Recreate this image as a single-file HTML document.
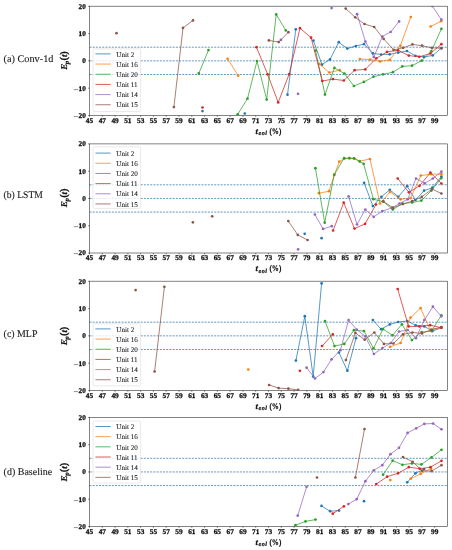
<!DOCTYPE html>
<html lang="en"><head><meta charset="utf-8"><title>Figure</title>
<style>html,body{margin:0;padding:0;background:#fff;}svg{display:block;}text{font-family:'Liberation Serif', 'DejaVu Serif', serif;text-rendering:geometricPrecision;}
.tk{font-size:7.3px;font-weight:bold;fill:#111;stroke:#111;stroke-width:0.27px;}.lg{font-size:7.1px;fill:#1a1a1a;stroke:#1a1a1a;stroke-width:0.08px;}.rl{font-size:10.2px;fill:#1a1a1a;stroke:#1a1a1a;stroke-width:0.12px;}.ax{font-size:8.5px;font-weight:bold;font-style:italic;fill:#111;stroke:#111;stroke-width:0.2px;}
</style></head><body>
<svg width="452" height="550" viewBox="0 0 452 550">
<rect width="452" height="550" fill="#fff"/>
<g>
<clipPath id="c0"><rect x="89.50" y="6.20" width="358.00" height="109.30"/></clipPath>
<line x1="89.50" x2="447.50" y1="47.19" y2="47.19" stroke="#3d7fae" stroke-width="0.95" stroke-opacity="0.85" stroke-dasharray="2 1.2"/>
<line x1="89.50" x2="447.50" y1="60.85" y2="60.85" stroke="#3d7fae" stroke-width="0.95" stroke-opacity="0.85" stroke-dasharray="2 1.2"/>
<line x1="89.50" x2="447.50" y1="74.51" y2="74.51" stroke="#3d7fae" stroke-width="0.95" stroke-opacity="0.85" stroke-dasharray="2 1.2"/>
<g clip-path="url(#c0)">
<circle cx="202.5" cy="111.1" r="1.35" fill="#1f77b4"/>
<circle cx="244.8" cy="113.5" r="1.35" fill="#1f77b4"/>
<polyline fill="none" stroke="#1f77b4" stroke-width="0.75" stroke-linejoin="round" points="287.5,94.7 295.8,29.3"/>
<circle cx="287.5" cy="94.7" r="1.35" fill="#1f77b4"/>
<circle cx="295.8" cy="29.3" r="1.35" fill="#1f77b4"/>
<polyline fill="none" stroke="#1f77b4" stroke-width="0.75" stroke-linejoin="round" points="313.4,40.6 322.0,64.7 330.0,59.4 338.8,42.2 347.3,48.6 355.8,46.0 364.0,44.1 373.0,53.4 381.2,54.5 389.7,54.3 398.2,52.6 407.0,51.0 415.4,55.8 423.9,57.0 432.7,55.4 441.4,48.1"/>
<circle cx="313.4" cy="40.6" r="1.35" fill="#1f77b4"/>
<circle cx="322.0" cy="64.7" r="1.35" fill="#1f77b4"/>
<circle cx="330.0" cy="59.4" r="1.35" fill="#1f77b4"/>
<circle cx="338.8" cy="42.2" r="1.35" fill="#1f77b4"/>
<circle cx="347.3" cy="48.6" r="1.35" fill="#1f77b4"/>
<circle cx="355.8" cy="46.0" r="1.35" fill="#1f77b4"/>
<circle cx="364.0" cy="44.1" r="1.35" fill="#1f77b4"/>
<circle cx="373.0" cy="53.4" r="1.35" fill="#1f77b4"/>
<circle cx="381.2" cy="54.5" r="1.35" fill="#1f77b4"/>
<circle cx="389.7" cy="54.3" r="1.35" fill="#1f77b4"/>
<circle cx="398.2" cy="52.6" r="1.35" fill="#1f77b4"/>
<circle cx="407.0" cy="51.0" r="1.35" fill="#1f77b4"/>
<circle cx="415.4" cy="55.8" r="1.35" fill="#1f77b4"/>
<circle cx="423.9" cy="57.0" r="1.35" fill="#1f77b4"/>
<circle cx="432.7" cy="55.4" r="1.35" fill="#1f77b4"/>
<circle cx="441.4" cy="48.1" r="1.35" fill="#1f77b4"/>
<polyline fill="none" stroke="#ff7f0e" stroke-width="0.75" stroke-linejoin="round" points="227.6,58.8 238.2,75.6"/>
<circle cx="227.6" cy="58.8" r="1.35" fill="#ff7f0e"/>
<circle cx="238.2" cy="75.6" r="1.35" fill="#ff7f0e"/>
<polyline fill="none" stroke="#ff7f0e" stroke-width="0.75" stroke-linejoin="round" points="319.4,64.0 329.3,72.5 339.7,70.2"/>
<circle cx="319.4" cy="64.0" r="1.35" fill="#ff7f0e"/>
<circle cx="329.3" cy="72.5" r="1.35" fill="#ff7f0e"/>
<circle cx="339.7" cy="70.2" r="1.35" fill="#ff7f0e"/>
<polyline fill="none" stroke="#ff7f0e" stroke-width="0.75" stroke-linejoin="round" points="359.9,59.0 370.1,59.6 380.0,61.4 389.9,59.8 400.3,45.8 410.8,17.0"/>
<circle cx="359.9" cy="59.0" r="1.35" fill="#ff7f0e"/>
<circle cx="370.1" cy="59.6" r="1.35" fill="#ff7f0e"/>
<circle cx="380.0" cy="61.4" r="1.35" fill="#ff7f0e"/>
<circle cx="389.9" cy="59.8" r="1.35" fill="#ff7f0e"/>
<circle cx="400.3" cy="45.8" r="1.35" fill="#ff7f0e"/>
<circle cx="410.8" cy="17.0" r="1.35" fill="#ff7f0e"/>
<polyline fill="none" stroke="#ff7f0e" stroke-width="0.75" stroke-linejoin="round" points="430.6,26.5 441.2,21.2"/>
<circle cx="430.6" cy="26.5" r="1.35" fill="#ff7f0e"/>
<circle cx="441.2" cy="21.2" r="1.35" fill="#ff7f0e"/>
<polyline fill="none" stroke="#2ca02c" stroke-width="0.75" stroke-linejoin="round" points="198.8,73.4 208.5,50.1"/>
<circle cx="198.8" cy="73.4" r="1.35" fill="#2ca02c"/>
<circle cx="208.5" cy="50.1" r="1.35" fill="#2ca02c"/>
<polyline fill="none" stroke="#2ca02c" stroke-width="0.75" stroke-linejoin="round" points="237.7,114.3 247.5,98.7 257.0,61.0 266.7,99.6 276.2,14.4 285.8,30.4"/>
<circle cx="237.7" cy="114.3" r="1.35" fill="#2ca02c"/>
<circle cx="247.5" cy="98.7" r="1.35" fill="#2ca02c"/>
<circle cx="257.0" cy="61.0" r="1.35" fill="#2ca02c"/>
<circle cx="266.7" cy="99.6" r="1.35" fill="#2ca02c"/>
<circle cx="276.2" cy="14.4" r="1.35" fill="#2ca02c"/>
<circle cx="285.8" cy="30.4" r="1.35" fill="#2ca02c"/>
<polyline fill="none" stroke="#2ca02c" stroke-width="0.75" stroke-linejoin="round" points="315.6,50.7 325.0,94.6 334.4,67.9 344.4,73.5 353.9,86.0 363.9,81.9 373.5,76.7 383.0,74.3 392.9,72.2 402.3,66.4 412.0,65.7 421.7,60.7 431.3,51.3 441.4,28.8"/>
<circle cx="315.6" cy="50.7" r="1.35" fill="#2ca02c"/>
<circle cx="325.0" cy="94.6" r="1.35" fill="#2ca02c"/>
<circle cx="334.4" cy="67.9" r="1.35" fill="#2ca02c"/>
<circle cx="344.4" cy="73.5" r="1.35" fill="#2ca02c"/>
<circle cx="353.9" cy="86.0" r="1.35" fill="#2ca02c"/>
<circle cx="363.9" cy="81.9" r="1.35" fill="#2ca02c"/>
<circle cx="373.5" cy="76.7" r="1.35" fill="#2ca02c"/>
<circle cx="383.0" cy="74.3" r="1.35" fill="#2ca02c"/>
<circle cx="392.9" cy="72.2" r="1.35" fill="#2ca02c"/>
<circle cx="402.3" cy="66.4" r="1.35" fill="#2ca02c"/>
<circle cx="412.0" cy="65.7" r="1.35" fill="#2ca02c"/>
<circle cx="421.7" cy="60.7" r="1.35" fill="#2ca02c"/>
<circle cx="431.3" cy="51.3" r="1.35" fill="#2ca02c"/>
<circle cx="441.4" cy="28.8" r="1.35" fill="#2ca02c"/>
<circle cx="202.5" cy="107.5" r="1.35" fill="#d62728"/>
<polyline fill="none" stroke="#d62728" stroke-width="0.75" stroke-linejoin="round" points="256.5,47.2 267.6,74.3 278.2,102.4 289.1,74.3 300.0,28.2 311.1,37.7 322.3,81.0 332.9,79.1 343.8,80.5 354.6,70.2 365.3,69.4 376.3,58.3 387.0,51.9 398.0,50.3 408.8,55.6 419.3,56.8 430.4,53.5 441.4,44.2"/>
<circle cx="256.5" cy="47.2" r="1.35" fill="#d62728"/>
<circle cx="267.6" cy="74.3" r="1.35" fill="#d62728"/>
<circle cx="278.2" cy="102.4" r="1.35" fill="#d62728"/>
<circle cx="289.1" cy="74.3" r="1.35" fill="#d62728"/>
<circle cx="300.0" cy="28.2" r="1.35" fill="#d62728"/>
<circle cx="311.1" cy="37.7" r="1.35" fill="#d62728"/>
<circle cx="322.3" cy="81.0" r="1.35" fill="#d62728"/>
<circle cx="332.9" cy="79.1" r="1.35" fill="#d62728"/>
<circle cx="343.8" cy="80.5" r="1.35" fill="#d62728"/>
<circle cx="354.6" cy="70.2" r="1.35" fill="#d62728"/>
<circle cx="365.3" cy="69.4" r="1.35" fill="#d62728"/>
<circle cx="376.3" cy="58.3" r="1.35" fill="#d62728"/>
<circle cx="387.0" cy="51.9" r="1.35" fill="#d62728"/>
<circle cx="398.0" cy="50.3" r="1.35" fill="#d62728"/>
<circle cx="408.8" cy="55.6" r="1.35" fill="#d62728"/>
<circle cx="419.3" cy="56.8" r="1.35" fill="#d62728"/>
<circle cx="430.4" cy="53.5" r="1.35" fill="#d62728"/>
<circle cx="441.4" cy="44.2" r="1.35" fill="#d62728"/>
<circle cx="280.9" cy="39.9" r="1.35" fill="#9467bd"/>
<circle cx="298.0" cy="93.8" r="1.35" fill="#9467bd"/>
<circle cx="331.6" cy="8.1" r="1.35" fill="#9467bd"/>
<polyline fill="none" stroke="#9467bd" stroke-width="0.75" stroke-linejoin="round" points="357.1,14.2 365.4,41.5 373.8,57.1 382.3,36.5 390.6,32.0 399.1,21.4"/>
<circle cx="357.1" cy="14.2" r="1.35" fill="#9467bd"/>
<circle cx="365.4" cy="41.5" r="1.35" fill="#9467bd"/>
<circle cx="373.8" cy="57.1" r="1.35" fill="#9467bd"/>
<circle cx="382.3" cy="36.5" r="1.35" fill="#9467bd"/>
<circle cx="390.6" cy="32.0" r="1.35" fill="#9467bd"/>
<circle cx="399.1" cy="21.4" r="1.35" fill="#9467bd"/>
<polyline fill="none" stroke="#9467bd" stroke-width="0.75" stroke-linejoin="round" points="432.2,6.0 441.4,19.6"/>
<circle cx="432.2" cy="6.0" r="1.35" fill="#9467bd"/>
<circle cx="441.4" cy="19.6" r="1.35" fill="#9467bd"/>
<circle cx="116.5" cy="33.2" r="1.35" fill="#8c564b"/>
<polyline fill="none" stroke="#8c564b" stroke-width="0.75" stroke-linejoin="round" points="173.9,107.1 183.0,27.9 193.0,20.4"/>
<circle cx="173.9" cy="107.1" r="1.35" fill="#8c564b"/>
<circle cx="183.0" cy="27.9" r="1.35" fill="#8c564b"/>
<circle cx="193.0" cy="20.4" r="1.35" fill="#8c564b"/>
<polyline fill="none" stroke="#8c564b" stroke-width="0.75" stroke-linejoin="round" points="268.9,40.4 278.7,42.1 288.4,32.2"/>
<circle cx="268.9" cy="40.4" r="1.35" fill="#8c564b"/>
<circle cx="278.7" cy="42.1" r="1.35" fill="#8c564b"/>
<circle cx="288.4" cy="32.2" r="1.35" fill="#8c564b"/>
<polyline fill="none" stroke="#8c564b" stroke-width="0.75" stroke-linejoin="round" points="345.7,8.6 355.2,17.3 364.5,24.0 374.2,27.0 383.7,38.9 393.6,49.9 403.2,47.8 412.4,44.4 422.1,45.7 431.8,47.8 441.4,48.3"/>
<circle cx="345.7" cy="8.6" r="1.35" fill="#8c564b"/>
<circle cx="355.2" cy="17.3" r="1.35" fill="#8c564b"/>
<circle cx="364.5" cy="24.0" r="1.35" fill="#8c564b"/>
<circle cx="374.2" cy="27.0" r="1.35" fill="#8c564b"/>
<circle cx="383.7" cy="38.9" r="1.35" fill="#8c564b"/>
<circle cx="393.6" cy="49.9" r="1.35" fill="#8c564b"/>
<circle cx="403.2" cy="47.8" r="1.35" fill="#8c564b"/>
<circle cx="412.4" cy="44.4" r="1.35" fill="#8c564b"/>
<circle cx="422.1" cy="45.7" r="1.35" fill="#8c564b"/>
<circle cx="431.8" cy="47.8" r="1.35" fill="#8c564b"/>
<circle cx="441.4" cy="48.3" r="1.35" fill="#8c564b"/>
</g>
<rect x="93.0" y="48.90" width="47.6" height="62.6" rx="1.2" fill="#fff" fill-opacity="0.8" stroke="#d4d4d4" stroke-width="0.5"/>
<line x1="95.4" x2="110.6" y1="53.90" y2="53.90" stroke="#1f77b4" stroke-width="0.8" stroke-opacity="0.95"/>
<text class="lg" x="116.3" y="56.60">Unit 2</text>
<line x1="95.4" x2="110.6" y1="64.07" y2="64.07" stroke="#ff7f0e" stroke-width="0.8" stroke-opacity="0.95"/>
<text class="lg" x="116.3" y="66.77">Unit 16</text>
<line x1="95.4" x2="110.6" y1="74.24" y2="74.24" stroke="#2ca02c" stroke-width="0.8" stroke-opacity="0.95"/>
<text class="lg" x="116.3" y="76.94">Unit 20</text>
<line x1="95.4" x2="110.6" y1="84.41" y2="84.41" stroke="#d62728" stroke-width="0.8" stroke-opacity="0.95"/>
<text class="lg" x="116.3" y="87.11">Unit 11</text>
<line x1="95.4" x2="110.6" y1="94.58" y2="94.58" stroke="#9467bd" stroke-width="0.8" stroke-opacity="0.95"/>
<text class="lg" x="116.3" y="97.28">Unit 14</text>
<line x1="95.4" x2="110.6" y1="104.75" y2="104.75" stroke="#8c564b" stroke-width="0.8" stroke-opacity="0.95"/>
<text class="lg" x="116.3" y="107.45">Unit 15</text>
<rect x="89.50" y="6.20" width="358.00" height="109.30" fill="none" stroke="#383838" stroke-width="0.62"/>
<line x1="88.10" x2="89.50" y1="6.20" y2="6.20" stroke="#222" stroke-width="0.55"/>
<text class="tk" text-anchor="end" x="85.9" y="8.65">20</text>
<line x1="88.10" x2="89.50" y1="33.53" y2="33.53" stroke="#222" stroke-width="0.55"/>
<text class="tk" text-anchor="end" x="85.9" y="35.98">10</text>
<line x1="88.10" x2="89.50" y1="60.85" y2="60.85" stroke="#222" stroke-width="0.55"/>
<text class="tk" text-anchor="end" x="85.9" y="63.30">0</text>
<line x1="88.10" x2="89.50" y1="88.17" y2="88.17" stroke="#222" stroke-width="0.55"/>
<text class="tk" text-anchor="end" x="85.9" y="90.62"><tspan font-size="9.6px" font-weight="normal" stroke="none" dy="1.9">−</tspan><tspan dy="-1.9">10</tspan></text>
<line x1="88.10" x2="89.50" y1="115.50" y2="115.50" stroke="#222" stroke-width="0.55"/>
<text class="tk" text-anchor="end" x="85.9" y="117.95"><tspan font-size="9.6px" font-weight="normal" stroke="none" dy="1.9">−</tspan><tspan dy="-1.9">20</tspan></text>
<line x1="89.50" x2="89.50" y1="115.50" y2="116.90" stroke="#222" stroke-width="0.55"/>
<text class="tk" text-anchor="middle" x="89.50" y="122.60">45</text>
<line x1="102.29" x2="102.29" y1="115.50" y2="116.90" stroke="#222" stroke-width="0.55"/>
<text class="tk" text-anchor="middle" x="102.29" y="122.60">47</text>
<line x1="115.07" x2="115.07" y1="115.50" y2="116.90" stroke="#222" stroke-width="0.55"/>
<text class="tk" text-anchor="middle" x="115.07" y="122.60">49</text>
<line x1="127.86" x2="127.86" y1="115.50" y2="116.90" stroke="#222" stroke-width="0.55"/>
<text class="tk" text-anchor="middle" x="127.86" y="122.60">51</text>
<line x1="140.64" x2="140.64" y1="115.50" y2="116.90" stroke="#222" stroke-width="0.55"/>
<text class="tk" text-anchor="middle" x="140.64" y="122.60">53</text>
<line x1="153.43" x2="153.43" y1="115.50" y2="116.90" stroke="#222" stroke-width="0.55"/>
<text class="tk" text-anchor="middle" x="153.43" y="122.60">55</text>
<line x1="166.21" x2="166.21" y1="115.50" y2="116.90" stroke="#222" stroke-width="0.55"/>
<text class="tk" text-anchor="middle" x="166.21" y="122.60">57</text>
<line x1="179.00" x2="179.00" y1="115.50" y2="116.90" stroke="#222" stroke-width="0.55"/>
<text class="tk" text-anchor="middle" x="179.00" y="122.60">59</text>
<line x1="191.79" x2="191.79" y1="115.50" y2="116.90" stroke="#222" stroke-width="0.55"/>
<text class="tk" text-anchor="middle" x="191.79" y="122.60">61</text>
<line x1="204.57" x2="204.57" y1="115.50" y2="116.90" stroke="#222" stroke-width="0.55"/>
<text class="tk" text-anchor="middle" x="204.57" y="122.60">63</text>
<line x1="217.36" x2="217.36" y1="115.50" y2="116.90" stroke="#222" stroke-width="0.55"/>
<text class="tk" text-anchor="middle" x="217.36" y="122.60">65</text>
<line x1="230.14" x2="230.14" y1="115.50" y2="116.90" stroke="#222" stroke-width="0.55"/>
<text class="tk" text-anchor="middle" x="230.14" y="122.60">67</text>
<line x1="242.93" x2="242.93" y1="115.50" y2="116.90" stroke="#222" stroke-width="0.55"/>
<text class="tk" text-anchor="middle" x="242.93" y="122.60">69</text>
<line x1="255.71" x2="255.71" y1="115.50" y2="116.90" stroke="#222" stroke-width="0.55"/>
<text class="tk" text-anchor="middle" x="255.71" y="122.60">71</text>
<line x1="268.50" x2="268.50" y1="115.50" y2="116.90" stroke="#222" stroke-width="0.55"/>
<text class="tk" text-anchor="middle" x="268.50" y="122.60">73</text>
<line x1="281.29" x2="281.29" y1="115.50" y2="116.90" stroke="#222" stroke-width="0.55"/>
<text class="tk" text-anchor="middle" x="281.29" y="122.60">75</text>
<line x1="294.07" x2="294.07" y1="115.50" y2="116.90" stroke="#222" stroke-width="0.55"/>
<text class="tk" text-anchor="middle" x="294.07" y="122.60">77</text>
<line x1="306.86" x2="306.86" y1="115.50" y2="116.90" stroke="#222" stroke-width="0.55"/>
<text class="tk" text-anchor="middle" x="306.86" y="122.60">79</text>
<line x1="319.64" x2="319.64" y1="115.50" y2="116.90" stroke="#222" stroke-width="0.55"/>
<text class="tk" text-anchor="middle" x="319.64" y="122.60">81</text>
<line x1="332.43" x2="332.43" y1="115.50" y2="116.90" stroke="#222" stroke-width="0.55"/>
<text class="tk" text-anchor="middle" x="332.43" y="122.60">83</text>
<line x1="345.21" x2="345.21" y1="115.50" y2="116.90" stroke="#222" stroke-width="0.55"/>
<text class="tk" text-anchor="middle" x="345.21" y="122.60">85</text>
<line x1="358.00" x2="358.00" y1="115.50" y2="116.90" stroke="#222" stroke-width="0.55"/>
<text class="tk" text-anchor="middle" x="358.00" y="122.60">87</text>
<line x1="370.79" x2="370.79" y1="115.50" y2="116.90" stroke="#222" stroke-width="0.55"/>
<text class="tk" text-anchor="middle" x="370.79" y="122.60">89</text>
<line x1="383.57" x2="383.57" y1="115.50" y2="116.90" stroke="#222" stroke-width="0.55"/>
<text class="tk" text-anchor="middle" x="383.57" y="122.60">91</text>
<line x1="396.36" x2="396.36" y1="115.50" y2="116.90" stroke="#222" stroke-width="0.55"/>
<text class="tk" text-anchor="middle" x="396.36" y="122.60">93</text>
<line x1="409.14" x2="409.14" y1="115.50" y2="116.90" stroke="#222" stroke-width="0.55"/>
<text class="tk" text-anchor="middle" x="409.14" y="122.60">95</text>
<line x1="421.93" x2="421.93" y1="115.50" y2="116.90" stroke="#222" stroke-width="0.55"/>
<text class="tk" text-anchor="middle" x="421.93" y="122.60">97</text>
<line x1="434.71" x2="434.71" y1="115.50" y2="116.90" stroke="#222" stroke-width="0.55"/>
<text class="tk" text-anchor="middle" x="434.71" y="122.60">99</text>
<text class="ax" style="font-size:8.9px" x="255.60" y="133.90">t<tspan font-size="6.2px" letter-spacing="0.45" x="258.50" dy="1.1">eol</tspan></text>
<text class="ax" style="font-size:8.8px;font-style:normal" transform="translate(269.50 133.90) scale(0.8 1)">(%)</text>
<text class="ax" transform="translate(67.4 69.85) rotate(-90)" style="font-size:9px">E<tspan font-size="6.8px" x="5.7" dy="1.7">p</tspan><tspan x="9.4" dy="-1.7" font-size="10.5px" font-style="normal">(</tspan><tspan x="12.75">t</tspan><tspan x="15.2" font-size="10.5px" font-style="normal">)</tspan></text>
<text class="rl" x="3.6" y="61.60" textLength="49.8" lengthAdjust="spacingAndGlyphs">(a) Conv-1d</text>
</g>
<g>
<clipPath id="c1"><rect x="89.50" y="143.90" width="358.00" height="109.10"/></clipPath>
<line x1="89.50" x2="447.50" y1="184.81" y2="184.81" stroke="#3d7fae" stroke-width="0.95" stroke-opacity="0.85" stroke-dasharray="2 1.2"/>
<line x1="89.50" x2="447.50" y1="198.45" y2="198.45" stroke="#3d7fae" stroke-width="0.95" stroke-opacity="0.85" stroke-dasharray="2 1.2"/>
<line x1="89.50" x2="447.50" y1="212.09" y2="212.09" stroke="#3d7fae" stroke-width="0.95" stroke-opacity="0.85" stroke-dasharray="2 1.2"/>
<g clip-path="url(#c1)">
<circle cx="304.7" cy="233.8" r="1.35" fill="#1f77b4"/>
<circle cx="321.6" cy="238.2" r="1.35" fill="#1f77b4"/>
<polyline fill="none" stroke="#1f77b4" stroke-width="0.75" stroke-linejoin="round" points="364.1,182.8 372.9,206.1 381.4,196.8 389.8,189.8 398.3,196.8 407.2,186.2 415.4,200.0 424.1,190.6 432.4,187.7 441.4,176.5"/>
<circle cx="364.1" cy="182.8" r="1.35" fill="#1f77b4"/>
<circle cx="372.9" cy="206.1" r="1.35" fill="#1f77b4"/>
<circle cx="381.4" cy="196.8" r="1.35" fill="#1f77b4"/>
<circle cx="389.8" cy="189.8" r="1.35" fill="#1f77b4"/>
<circle cx="398.3" cy="196.8" r="1.35" fill="#1f77b4"/>
<circle cx="407.2" cy="186.2" r="1.35" fill="#1f77b4"/>
<circle cx="415.4" cy="200.0" r="1.35" fill="#1f77b4"/>
<circle cx="424.1" cy="190.6" r="1.35" fill="#1f77b4"/>
<circle cx="432.4" cy="187.7" r="1.35" fill="#1f77b4"/>
<circle cx="441.4" cy="176.5" r="1.35" fill="#1f77b4"/>
<polyline fill="none" stroke="#ff7f0e" stroke-width="0.75" stroke-linejoin="round" points="318.9,193.2 329.1,191.2 334.4,174.6 339.3,161.7 344.4,158.6 349.5,158.2 354.4,158.4 359.7,161.1 370.0,159.0 380.0,203.5 390.0,191.9 400.6,199.3 410.6,198.1 420.8,175.6 431.0,174.2 441.4,174.2"/>
<circle cx="318.9" cy="193.2" r="1.35" fill="#ff7f0e"/>
<circle cx="329.1" cy="191.2" r="1.35" fill="#ff7f0e"/>
<circle cx="334.4" cy="174.6" r="1.35" fill="#ff7f0e"/>
<circle cx="339.3" cy="161.7" r="1.35" fill="#ff7f0e"/>
<circle cx="344.4" cy="158.6" r="1.35" fill="#ff7f0e"/>
<circle cx="349.5" cy="158.2" r="1.35" fill="#ff7f0e"/>
<circle cx="354.4" cy="158.4" r="1.35" fill="#ff7f0e"/>
<circle cx="359.7" cy="161.1" r="1.35" fill="#ff7f0e"/>
<circle cx="370.0" cy="159.0" r="1.35" fill="#ff7f0e"/>
<circle cx="380.0" cy="203.5" r="1.35" fill="#ff7f0e"/>
<circle cx="390.0" cy="191.9" r="1.35" fill="#ff7f0e"/>
<circle cx="400.6" cy="199.3" r="1.35" fill="#ff7f0e"/>
<circle cx="410.6" cy="198.1" r="1.35" fill="#ff7f0e"/>
<circle cx="420.8" cy="175.6" r="1.35" fill="#ff7f0e"/>
<circle cx="431.0" cy="174.2" r="1.35" fill="#ff7f0e"/>
<circle cx="441.4" cy="174.2" r="1.35" fill="#ff7f0e"/>
<polyline fill="none" stroke="#2ca02c" stroke-width="0.75" stroke-linejoin="round" points="315.4,168.2 324.7,222.7 334.2,174.8 344.1,158.2 349.3,158.2 354.0,158.4 359.7,161.5 363.6,163.8 373.4,199.2 383.2,201.6 392.8,209.6 402.5,203.5 412.2,202.5 421.4,200.6 431.4,190.6 441.4,178.1"/>
<circle cx="315.4" cy="168.2" r="1.35" fill="#2ca02c"/>
<circle cx="324.7" cy="222.7" r="1.35" fill="#2ca02c"/>
<circle cx="334.2" cy="174.8" r="1.35" fill="#2ca02c"/>
<circle cx="344.1" cy="158.2" r="1.35" fill="#2ca02c"/>
<circle cx="349.3" cy="158.2" r="1.35" fill="#2ca02c"/>
<circle cx="354.0" cy="158.4" r="1.35" fill="#2ca02c"/>
<circle cx="359.7" cy="161.5" r="1.35" fill="#2ca02c"/>
<circle cx="363.6" cy="163.8" r="1.35" fill="#2ca02c"/>
<circle cx="373.4" cy="199.2" r="1.35" fill="#2ca02c"/>
<circle cx="383.2" cy="201.6" r="1.35" fill="#2ca02c"/>
<circle cx="392.8" cy="209.6" r="1.35" fill="#2ca02c"/>
<circle cx="402.5" cy="203.5" r="1.35" fill="#2ca02c"/>
<circle cx="412.2" cy="202.5" r="1.35" fill="#2ca02c"/>
<circle cx="421.4" cy="200.6" r="1.35" fill="#2ca02c"/>
<circle cx="431.4" cy="190.6" r="1.35" fill="#2ca02c"/>
<circle cx="441.4" cy="178.1" r="1.35" fill="#2ca02c"/>
<polyline fill="none" stroke="#d62728" stroke-width="0.75" stroke-linejoin="round" points="333.1,230.5 343.7,202.7 354.5,228.6 365.1,223.8 376.0,204.5"/>
<circle cx="333.1" cy="230.5" r="1.35" fill="#d62728"/>
<circle cx="343.7" cy="202.7" r="1.35" fill="#d62728"/>
<circle cx="354.5" cy="228.6" r="1.35" fill="#d62728"/>
<circle cx="365.1" cy="223.8" r="1.35" fill="#d62728"/>
<circle cx="376.0" cy="204.5" r="1.35" fill="#d62728"/>
<polyline fill="none" stroke="#d62728" stroke-width="0.75" stroke-linejoin="round" points="397.7,178.5 408.9,192.3 419.5,185.8 430.4,172.7 441.4,183.5"/>
<circle cx="397.7" cy="178.5" r="1.35" fill="#d62728"/>
<circle cx="408.9" cy="192.3" r="1.35" fill="#d62728"/>
<circle cx="419.5" cy="185.8" r="1.35" fill="#d62728"/>
<circle cx="430.4" cy="172.7" r="1.35" fill="#d62728"/>
<circle cx="441.4" cy="183.5" r="1.35" fill="#d62728"/>
<circle cx="298.1" cy="249.3" r="1.35" fill="#9467bd"/>
<polyline fill="none" stroke="#9467bd" stroke-width="0.75" stroke-linejoin="round" points="314.9,214.5 323.1,228.9 331.8,226.2"/>
<circle cx="314.9" cy="214.5" r="1.35" fill="#9467bd"/>
<circle cx="323.1" cy="228.9" r="1.35" fill="#9467bd"/>
<circle cx="331.8" cy="226.2" r="1.35" fill="#9467bd"/>
<polyline fill="none" stroke="#9467bd" stroke-width="0.75" stroke-linejoin="round" points="348.6,196.4 357.0,224.5 365.3,209.5 373.7,216.9 382.3,211.1 391.9,208.0 399.4,203.5 407.7,199.3 416.0,178.5 424.7,183.3 432.8,178.5 441.4,171.7"/>
<circle cx="348.6" cy="196.4" r="1.35" fill="#9467bd"/>
<circle cx="357.0" cy="224.5" r="1.35" fill="#9467bd"/>
<circle cx="365.3" cy="209.5" r="1.35" fill="#9467bd"/>
<circle cx="373.7" cy="216.9" r="1.35" fill="#9467bd"/>
<circle cx="382.3" cy="211.1" r="1.35" fill="#9467bd"/>
<circle cx="391.9" cy="208.0" r="1.35" fill="#9467bd"/>
<circle cx="399.4" cy="203.5" r="1.35" fill="#9467bd"/>
<circle cx="407.7" cy="199.3" r="1.35" fill="#9467bd"/>
<circle cx="416.0" cy="178.5" r="1.35" fill="#9467bd"/>
<circle cx="424.7" cy="183.3" r="1.35" fill="#9467bd"/>
<circle cx="432.8" cy="178.5" r="1.35" fill="#9467bd"/>
<circle cx="441.4" cy="171.7" r="1.35" fill="#9467bd"/>
<circle cx="192.9" cy="222.3" r="1.35" fill="#8c564b"/>
<circle cx="212.2" cy="216.3" r="1.35" fill="#8c564b"/>
<polyline fill="none" stroke="#8c564b" stroke-width="0.75" stroke-linejoin="round" points="288.3,221.1 297.8,234.9 307.6,240.0"/>
<circle cx="288.3" cy="221.1" r="1.35" fill="#8c564b"/>
<circle cx="297.8" cy="234.9" r="1.35" fill="#8c564b"/>
<circle cx="307.6" cy="240.0" r="1.35" fill="#8c564b"/>
<polyline fill="none" stroke="#8c564b" stroke-width="0.75" stroke-linejoin="round" points="383.3,201.3 392.9,207.7 402.9,204.1 412.2,201.2 421.8,196.8 432.0,189.1 441.4,193.5"/>
<circle cx="383.3" cy="201.3" r="1.35" fill="#8c564b"/>
<circle cx="392.9" cy="207.7" r="1.35" fill="#8c564b"/>
<circle cx="402.9" cy="204.1" r="1.35" fill="#8c564b"/>
<circle cx="412.2" cy="201.2" r="1.35" fill="#8c564b"/>
<circle cx="421.8" cy="196.8" r="1.35" fill="#8c564b"/>
<circle cx="432.0" cy="189.1" r="1.35" fill="#8c564b"/>
<circle cx="441.4" cy="193.5" r="1.35" fill="#8c564b"/>
</g>
<rect x="93.0" y="146.80" width="47.6" height="61.6" rx="1.2" fill="#fff" fill-opacity="0.8" stroke="#d4d4d4" stroke-width="0.5"/>
<line x1="95.4" x2="110.6" y1="153.10" y2="153.10" stroke="#1f77b4" stroke-width="0.8" stroke-opacity="0.95"/>
<text class="lg" x="116.3" y="155.80">Unit 2</text>
<line x1="95.4" x2="110.6" y1="163.27" y2="163.27" stroke="#ff7f0e" stroke-width="0.8" stroke-opacity="0.95"/>
<text class="lg" x="116.3" y="165.97">Unit 16</text>
<line x1="95.4" x2="110.6" y1="173.44" y2="173.44" stroke="#2ca02c" stroke-width="0.8" stroke-opacity="0.95"/>
<text class="lg" x="116.3" y="176.14">Unit 20</text>
<line x1="95.4" x2="110.6" y1="183.61" y2="183.61" stroke="#d62728" stroke-width="0.8" stroke-opacity="0.95"/>
<text class="lg" x="116.3" y="186.31">Unit 11</text>
<line x1="95.4" x2="110.6" y1="193.78" y2="193.78" stroke="#9467bd" stroke-width="0.8" stroke-opacity="0.95"/>
<text class="lg" x="116.3" y="196.48">Unit 14</text>
<line x1="95.4" x2="110.6" y1="203.95" y2="203.95" stroke="#8c564b" stroke-width="0.8" stroke-opacity="0.95"/>
<text class="lg" x="116.3" y="206.65">Unit 15</text>
<rect x="89.50" y="143.90" width="358.00" height="109.10" fill="none" stroke="#383838" stroke-width="0.62"/>
<line x1="88.10" x2="89.50" y1="143.90" y2="143.90" stroke="#222" stroke-width="0.55"/>
<text class="tk" text-anchor="end" x="85.9" y="146.35">20</text>
<line x1="88.10" x2="89.50" y1="171.17" y2="171.17" stroke="#222" stroke-width="0.55"/>
<text class="tk" text-anchor="end" x="85.9" y="173.62">10</text>
<line x1="88.10" x2="89.50" y1="198.45" y2="198.45" stroke="#222" stroke-width="0.55"/>
<text class="tk" text-anchor="end" x="85.9" y="200.90">0</text>
<line x1="88.10" x2="89.50" y1="225.72" y2="225.72" stroke="#222" stroke-width="0.55"/>
<text class="tk" text-anchor="end" x="85.9" y="228.17"><tspan font-size="9.6px" font-weight="normal" stroke="none" dy="1.9">−</tspan><tspan dy="-1.9">10</tspan></text>
<line x1="88.10" x2="89.50" y1="253.00" y2="253.00" stroke="#222" stroke-width="0.55"/>
<text class="tk" text-anchor="end" x="85.9" y="255.45"><tspan font-size="9.6px" font-weight="normal" stroke="none" dy="1.9">−</tspan><tspan dy="-1.9">20</tspan></text>
<line x1="89.50" x2="89.50" y1="253.00" y2="254.40" stroke="#222" stroke-width="0.55"/>
<text class="tk" text-anchor="middle" x="89.50" y="260.10">45</text>
<line x1="102.29" x2="102.29" y1="253.00" y2="254.40" stroke="#222" stroke-width="0.55"/>
<text class="tk" text-anchor="middle" x="102.29" y="260.10">47</text>
<line x1="115.07" x2="115.07" y1="253.00" y2="254.40" stroke="#222" stroke-width="0.55"/>
<text class="tk" text-anchor="middle" x="115.07" y="260.10">49</text>
<line x1="127.86" x2="127.86" y1="253.00" y2="254.40" stroke="#222" stroke-width="0.55"/>
<text class="tk" text-anchor="middle" x="127.86" y="260.10">51</text>
<line x1="140.64" x2="140.64" y1="253.00" y2="254.40" stroke="#222" stroke-width="0.55"/>
<text class="tk" text-anchor="middle" x="140.64" y="260.10">53</text>
<line x1="153.43" x2="153.43" y1="253.00" y2="254.40" stroke="#222" stroke-width="0.55"/>
<text class="tk" text-anchor="middle" x="153.43" y="260.10">55</text>
<line x1="166.21" x2="166.21" y1="253.00" y2="254.40" stroke="#222" stroke-width="0.55"/>
<text class="tk" text-anchor="middle" x="166.21" y="260.10">57</text>
<line x1="179.00" x2="179.00" y1="253.00" y2="254.40" stroke="#222" stroke-width="0.55"/>
<text class="tk" text-anchor="middle" x="179.00" y="260.10">59</text>
<line x1="191.79" x2="191.79" y1="253.00" y2="254.40" stroke="#222" stroke-width="0.55"/>
<text class="tk" text-anchor="middle" x="191.79" y="260.10">61</text>
<line x1="204.57" x2="204.57" y1="253.00" y2="254.40" stroke="#222" stroke-width="0.55"/>
<text class="tk" text-anchor="middle" x="204.57" y="260.10">63</text>
<line x1="217.36" x2="217.36" y1="253.00" y2="254.40" stroke="#222" stroke-width="0.55"/>
<text class="tk" text-anchor="middle" x="217.36" y="260.10">65</text>
<line x1="230.14" x2="230.14" y1="253.00" y2="254.40" stroke="#222" stroke-width="0.55"/>
<text class="tk" text-anchor="middle" x="230.14" y="260.10">67</text>
<line x1="242.93" x2="242.93" y1="253.00" y2="254.40" stroke="#222" stroke-width="0.55"/>
<text class="tk" text-anchor="middle" x="242.93" y="260.10">69</text>
<line x1="255.71" x2="255.71" y1="253.00" y2="254.40" stroke="#222" stroke-width="0.55"/>
<text class="tk" text-anchor="middle" x="255.71" y="260.10">71</text>
<line x1="268.50" x2="268.50" y1="253.00" y2="254.40" stroke="#222" stroke-width="0.55"/>
<text class="tk" text-anchor="middle" x="268.50" y="260.10">73</text>
<line x1="281.29" x2="281.29" y1="253.00" y2="254.40" stroke="#222" stroke-width="0.55"/>
<text class="tk" text-anchor="middle" x="281.29" y="260.10">75</text>
<line x1="294.07" x2="294.07" y1="253.00" y2="254.40" stroke="#222" stroke-width="0.55"/>
<text class="tk" text-anchor="middle" x="294.07" y="260.10">77</text>
<line x1="306.86" x2="306.86" y1="253.00" y2="254.40" stroke="#222" stroke-width="0.55"/>
<text class="tk" text-anchor="middle" x="306.86" y="260.10">79</text>
<line x1="319.64" x2="319.64" y1="253.00" y2="254.40" stroke="#222" stroke-width="0.55"/>
<text class="tk" text-anchor="middle" x="319.64" y="260.10">81</text>
<line x1="332.43" x2="332.43" y1="253.00" y2="254.40" stroke="#222" stroke-width="0.55"/>
<text class="tk" text-anchor="middle" x="332.43" y="260.10">83</text>
<line x1="345.21" x2="345.21" y1="253.00" y2="254.40" stroke="#222" stroke-width="0.55"/>
<text class="tk" text-anchor="middle" x="345.21" y="260.10">85</text>
<line x1="358.00" x2="358.00" y1="253.00" y2="254.40" stroke="#222" stroke-width="0.55"/>
<text class="tk" text-anchor="middle" x="358.00" y="260.10">87</text>
<line x1="370.79" x2="370.79" y1="253.00" y2="254.40" stroke="#222" stroke-width="0.55"/>
<text class="tk" text-anchor="middle" x="370.79" y="260.10">89</text>
<line x1="383.57" x2="383.57" y1="253.00" y2="254.40" stroke="#222" stroke-width="0.55"/>
<text class="tk" text-anchor="middle" x="383.57" y="260.10">91</text>
<line x1="396.36" x2="396.36" y1="253.00" y2="254.40" stroke="#222" stroke-width="0.55"/>
<text class="tk" text-anchor="middle" x="396.36" y="260.10">93</text>
<line x1="409.14" x2="409.14" y1="253.00" y2="254.40" stroke="#222" stroke-width="0.55"/>
<text class="tk" text-anchor="middle" x="409.14" y="260.10">95</text>
<line x1="421.93" x2="421.93" y1="253.00" y2="254.40" stroke="#222" stroke-width="0.55"/>
<text class="tk" text-anchor="middle" x="421.93" y="260.10">97</text>
<line x1="434.71" x2="434.71" y1="253.00" y2="254.40" stroke="#222" stroke-width="0.55"/>
<text class="tk" text-anchor="middle" x="434.71" y="260.10">99</text>
<text class="ax" style="font-size:8.9px" x="255.60" y="271.40">t<tspan font-size="6.2px" letter-spacing="0.45" x="258.50" dy="1.1">eol</tspan></text>
<text class="ax" style="font-size:8.8px;font-style:normal" transform="translate(269.50 271.40) scale(0.8 1)">(%)</text>
<text class="ax" transform="translate(67.4 207.25) rotate(-90)" style="font-size:9px">E<tspan font-size="6.8px" x="5.7" dy="1.7">p</tspan><tspan x="9.4" dy="-1.7" font-size="10.5px" font-style="normal">(</tspan><tspan x="12.75">t</tspan><tspan x="15.2" font-size="10.5px" font-style="normal">)</tspan></text>
<text class="rl" x="3.6" y="198.35" textLength="39.2" lengthAdjust="spacingAndGlyphs">(b) LSTM</text>
</g>
<g>
<clipPath id="c2"><rect x="89.50" y="281.20" width="358.00" height="109.30"/></clipPath>
<line x1="89.50" x2="447.50" y1="322.19" y2="322.19" stroke="#3d7fae" stroke-width="0.95" stroke-opacity="0.85" stroke-dasharray="2 1.2"/>
<line x1="89.50" x2="447.50" y1="335.85" y2="335.85" stroke="#3d7fae" stroke-width="0.95" stroke-opacity="0.85" stroke-dasharray="2 1.2"/>
<line x1="89.50" x2="447.50" y1="349.51" y2="349.51" stroke="#3d7fae" stroke-width="0.95" stroke-opacity="0.85" stroke-dasharray="2 1.2"/>
<g clip-path="url(#c2)">
<polyline fill="none" stroke="#1f77b4" stroke-width="0.75" stroke-linejoin="round" points="295.9,360.6 304.8,316.2 313.2,376.6 321.6,283.4"/>
<circle cx="295.9" cy="360.6" r="1.35" fill="#1f77b4"/>
<circle cx="304.8" cy="316.2" r="1.35" fill="#1f77b4"/>
<circle cx="313.2" cy="376.6" r="1.35" fill="#1f77b4"/>
<circle cx="321.6" cy="283.4" r="1.35" fill="#1f77b4"/>
<polyline fill="none" stroke="#1f77b4" stroke-width="0.75" stroke-linejoin="round" points="338.9,352.5 347.4,370.7 356.0,338.2"/>
<circle cx="338.9" cy="352.5" r="1.35" fill="#1f77b4"/>
<circle cx="347.4" cy="370.7" r="1.35" fill="#1f77b4"/>
<circle cx="356.0" cy="338.2" r="1.35" fill="#1f77b4"/>
<polyline fill="none" stroke="#1f77b4" stroke-width="0.75" stroke-linejoin="round" points="372.9,320.1 381.1,329.2 389.8,324.4 398.1,322.0 407.3,321.0 415.7,325.4 424.3,326.4 432.5,331.1 441.3,327.7"/>
<circle cx="372.9" cy="320.1" r="1.35" fill="#1f77b4"/>
<circle cx="381.1" cy="329.2" r="1.35" fill="#1f77b4"/>
<circle cx="389.8" cy="324.4" r="1.35" fill="#1f77b4"/>
<circle cx="398.1" cy="322.0" r="1.35" fill="#1f77b4"/>
<circle cx="407.3" cy="321.0" r="1.35" fill="#1f77b4"/>
<circle cx="415.7" cy="325.4" r="1.35" fill="#1f77b4"/>
<circle cx="424.3" cy="326.4" r="1.35" fill="#1f77b4"/>
<circle cx="432.5" cy="331.1" r="1.35" fill="#1f77b4"/>
<circle cx="441.3" cy="327.7" r="1.35" fill="#1f77b4"/>
<circle cx="248.3" cy="369.5" r="1.35" fill="#ff7f0e"/>
<polyline fill="none" stroke="#ff7f0e" stroke-width="0.75" stroke-linejoin="round" points="390.1,346.8 400.6,343.0 410.5,317.6 420.6,308.1 430.2,330.0 441.3,327.7"/>
<circle cx="390.1" cy="346.8" r="1.35" fill="#ff7f0e"/>
<circle cx="400.6" cy="343.0" r="1.35" fill="#ff7f0e"/>
<circle cx="410.5" cy="317.6" r="1.35" fill="#ff7f0e"/>
<circle cx="420.6" cy="308.1" r="1.35" fill="#ff7f0e"/>
<circle cx="430.2" cy="330.0" r="1.35" fill="#ff7f0e"/>
<circle cx="441.3" cy="327.7" r="1.35" fill="#ff7f0e"/>
<polyline fill="none" stroke="#2ca02c" stroke-width="0.75" stroke-linejoin="round" points="325.0,321.1 334.5,346.1 344.3,343.9 353.9,330.2 364.0,331.1 373.5,348.3 383.0,329.1 392.5,335.3 401.9,324.3 411.9,340.1 421.6,332.1 431.5,331.1 441.3,315.3"/>
<circle cx="325.0" cy="321.1" r="1.35" fill="#2ca02c"/>
<circle cx="334.5" cy="346.1" r="1.35" fill="#2ca02c"/>
<circle cx="344.3" cy="343.9" r="1.35" fill="#2ca02c"/>
<circle cx="353.9" cy="330.2" r="1.35" fill="#2ca02c"/>
<circle cx="364.0" cy="331.1" r="1.35" fill="#2ca02c"/>
<circle cx="373.5" cy="348.3" r="1.35" fill="#2ca02c"/>
<circle cx="383.0" cy="329.1" r="1.35" fill="#2ca02c"/>
<circle cx="392.5" cy="335.3" r="1.35" fill="#2ca02c"/>
<circle cx="401.9" cy="324.3" r="1.35" fill="#2ca02c"/>
<circle cx="411.9" cy="340.1" r="1.35" fill="#2ca02c"/>
<circle cx="421.6" cy="332.1" r="1.35" fill="#2ca02c"/>
<circle cx="431.5" cy="331.1" r="1.35" fill="#2ca02c"/>
<circle cx="441.3" cy="315.3" r="1.35" fill="#2ca02c"/>
<circle cx="299.9" cy="370.8" r="1.35" fill="#d62728"/>
<polyline fill="none" stroke="#d62728" stroke-width="0.75" stroke-linejoin="round" points="322.1,346.0 332.8,334.4"/>
<circle cx="322.1" cy="346.0" r="1.35" fill="#d62728"/>
<circle cx="332.8" cy="334.4" r="1.35" fill="#d62728"/>
<polyline fill="none" stroke="#d62728" stroke-width="0.75" stroke-linejoin="round" points="397.7,289.0 408.6,326.4 419.5,326.4 430.2,325.2 441.3,327.7"/>
<circle cx="397.7" cy="289.0" r="1.35" fill="#d62728"/>
<circle cx="408.6" cy="326.4" r="1.35" fill="#d62728"/>
<circle cx="419.5" cy="326.4" r="1.35" fill="#d62728"/>
<circle cx="430.2" cy="325.2" r="1.35" fill="#d62728"/>
<circle cx="441.3" cy="327.7" r="1.35" fill="#d62728"/>
<polyline fill="none" stroke="#9467bd" stroke-width="0.75" stroke-linejoin="round" points="306.6,367.7 315.0,378.5 323.4,372.1 331.6,359.3 340.4,350.2 348.6,320.1 356.7,329.6 365.3,336.3 373.9,354.0 382.4,348.1 390.8,343.0 399.1,331.5 407.7,330.0 415.9,338.2 424.3,320.1 432.9,306.7 441.3,316.3"/>
<circle cx="306.6" cy="367.7" r="1.35" fill="#9467bd"/>
<circle cx="315.0" cy="378.5" r="1.35" fill="#9467bd"/>
<circle cx="323.4" cy="372.1" r="1.35" fill="#9467bd"/>
<circle cx="331.6" cy="359.3" r="1.35" fill="#9467bd"/>
<circle cx="340.4" cy="350.2" r="1.35" fill="#9467bd"/>
<circle cx="348.6" cy="320.1" r="1.35" fill="#9467bd"/>
<circle cx="356.7" cy="329.6" r="1.35" fill="#9467bd"/>
<circle cx="365.3" cy="336.3" r="1.35" fill="#9467bd"/>
<circle cx="373.9" cy="354.0" r="1.35" fill="#9467bd"/>
<circle cx="382.4" cy="348.1" r="1.35" fill="#9467bd"/>
<circle cx="390.8" cy="343.0" r="1.35" fill="#9467bd"/>
<circle cx="399.1" cy="331.5" r="1.35" fill="#9467bd"/>
<circle cx="407.7" cy="330.0" r="1.35" fill="#9467bd"/>
<circle cx="415.9" cy="338.2" r="1.35" fill="#9467bd"/>
<circle cx="424.3" cy="320.1" r="1.35" fill="#9467bd"/>
<circle cx="432.9" cy="306.7" r="1.35" fill="#9467bd"/>
<circle cx="441.3" cy="316.3" r="1.35" fill="#9467bd"/>
<circle cx="135.6" cy="290.1" r="1.35" fill="#8c564b"/>
<polyline fill="none" stroke="#8c564b" stroke-width="0.75" stroke-linejoin="round" points="154.6,371.5 164.4,286.8"/>
<circle cx="154.6" cy="371.5" r="1.35" fill="#8c564b"/>
<circle cx="164.4" cy="286.8" r="1.35" fill="#8c564b"/>
<polyline fill="none" stroke="#8c564b" stroke-width="0.75" stroke-linejoin="round" points="269.1,385.0 278.6,388.1 288.4,388.7 298.1,389.9"/>
<circle cx="269.1" cy="385.0" r="1.35" fill="#8c564b"/>
<circle cx="278.6" cy="388.1" r="1.35" fill="#8c564b"/>
<circle cx="288.4" cy="388.7" r="1.35" fill="#8c564b"/>
<circle cx="298.1" cy="389.9" r="1.35" fill="#8c564b"/>
<polyline fill="none" stroke="#8c564b" stroke-width="0.75" stroke-linejoin="round" points="345.9,360.1 355.4,332.9 364.7,339.7 374.3,332.5 383.9,343.9 393.4,343.5 402.9,334.4 412.4,332.5 422.0,333.4 431.5,329.6 441.3,327.1"/>
<circle cx="345.9" cy="360.1" r="1.35" fill="#8c564b"/>
<circle cx="355.4" cy="332.9" r="1.35" fill="#8c564b"/>
<circle cx="364.7" cy="339.7" r="1.35" fill="#8c564b"/>
<circle cx="374.3" cy="332.5" r="1.35" fill="#8c564b"/>
<circle cx="383.9" cy="343.9" r="1.35" fill="#8c564b"/>
<circle cx="393.4" cy="343.5" r="1.35" fill="#8c564b"/>
<circle cx="402.9" cy="334.4" r="1.35" fill="#8c564b"/>
<circle cx="412.4" cy="332.5" r="1.35" fill="#8c564b"/>
<circle cx="422.0" cy="333.4" r="1.35" fill="#8c564b"/>
<circle cx="431.5" cy="329.6" r="1.35" fill="#8c564b"/>
<circle cx="441.3" cy="327.1" r="1.35" fill="#8c564b"/>
</g>
<rect x="93.0" y="323.80" width="47.6" height="62.0" rx="1.2" fill="#fff" fill-opacity="0.8" stroke="#d4d4d4" stroke-width="0.5"/>
<line x1="95.4" x2="110.6" y1="328.90" y2="328.90" stroke="#1f77b4" stroke-width="0.8" stroke-opacity="0.95"/>
<text class="lg" x="116.3" y="331.60">Unit 2</text>
<line x1="95.4" x2="110.6" y1="339.07" y2="339.07" stroke="#ff7f0e" stroke-width="0.8" stroke-opacity="0.95"/>
<text class="lg" x="116.3" y="341.77">Unit 16</text>
<line x1="95.4" x2="110.6" y1="349.24" y2="349.24" stroke="#2ca02c" stroke-width="0.8" stroke-opacity="0.95"/>
<text class="lg" x="116.3" y="351.94">Unit 20</text>
<line x1="95.4" x2="110.6" y1="359.41" y2="359.41" stroke="#d62728" stroke-width="0.8" stroke-opacity="0.95"/>
<text class="lg" x="116.3" y="362.11">Unit 11</text>
<line x1="95.4" x2="110.6" y1="369.58" y2="369.58" stroke="#9467bd" stroke-width="0.8" stroke-opacity="0.95"/>
<text class="lg" x="116.3" y="372.28">Unit 14</text>
<line x1="95.4" x2="110.6" y1="379.75" y2="379.75" stroke="#8c564b" stroke-width="0.8" stroke-opacity="0.95"/>
<text class="lg" x="116.3" y="382.45">Unit 15</text>
<rect x="89.50" y="281.20" width="358.00" height="109.30" fill="none" stroke="#383838" stroke-width="0.62"/>
<line x1="88.10" x2="89.50" y1="281.20" y2="281.20" stroke="#222" stroke-width="0.55"/>
<text class="tk" text-anchor="end" x="85.9" y="283.65">20</text>
<line x1="88.10" x2="89.50" y1="308.53" y2="308.53" stroke="#222" stroke-width="0.55"/>
<text class="tk" text-anchor="end" x="85.9" y="310.98">10</text>
<line x1="88.10" x2="89.50" y1="335.85" y2="335.85" stroke="#222" stroke-width="0.55"/>
<text class="tk" text-anchor="end" x="85.9" y="338.30">0</text>
<line x1="88.10" x2="89.50" y1="363.18" y2="363.18" stroke="#222" stroke-width="0.55"/>
<text class="tk" text-anchor="end" x="85.9" y="365.62"><tspan font-size="9.6px" font-weight="normal" stroke="none" dy="1.9">−</tspan><tspan dy="-1.9">10</tspan></text>
<line x1="88.10" x2="89.50" y1="390.50" y2="390.50" stroke="#222" stroke-width="0.55"/>
<text class="tk" text-anchor="end" x="85.9" y="392.95"><tspan font-size="9.6px" font-weight="normal" stroke="none" dy="1.9">−</tspan><tspan dy="-1.9">20</tspan></text>
<line x1="89.50" x2="89.50" y1="390.50" y2="391.90" stroke="#222" stroke-width="0.55"/>
<text class="tk" text-anchor="middle" x="89.50" y="397.60">45</text>
<line x1="102.29" x2="102.29" y1="390.50" y2="391.90" stroke="#222" stroke-width="0.55"/>
<text class="tk" text-anchor="middle" x="102.29" y="397.60">47</text>
<line x1="115.07" x2="115.07" y1="390.50" y2="391.90" stroke="#222" stroke-width="0.55"/>
<text class="tk" text-anchor="middle" x="115.07" y="397.60">49</text>
<line x1="127.86" x2="127.86" y1="390.50" y2="391.90" stroke="#222" stroke-width="0.55"/>
<text class="tk" text-anchor="middle" x="127.86" y="397.60">51</text>
<line x1="140.64" x2="140.64" y1="390.50" y2="391.90" stroke="#222" stroke-width="0.55"/>
<text class="tk" text-anchor="middle" x="140.64" y="397.60">53</text>
<line x1="153.43" x2="153.43" y1="390.50" y2="391.90" stroke="#222" stroke-width="0.55"/>
<text class="tk" text-anchor="middle" x="153.43" y="397.60">55</text>
<line x1="166.21" x2="166.21" y1="390.50" y2="391.90" stroke="#222" stroke-width="0.55"/>
<text class="tk" text-anchor="middle" x="166.21" y="397.60">57</text>
<line x1="179.00" x2="179.00" y1="390.50" y2="391.90" stroke="#222" stroke-width="0.55"/>
<text class="tk" text-anchor="middle" x="179.00" y="397.60">59</text>
<line x1="191.79" x2="191.79" y1="390.50" y2="391.90" stroke="#222" stroke-width="0.55"/>
<text class="tk" text-anchor="middle" x="191.79" y="397.60">61</text>
<line x1="204.57" x2="204.57" y1="390.50" y2="391.90" stroke="#222" stroke-width="0.55"/>
<text class="tk" text-anchor="middle" x="204.57" y="397.60">63</text>
<line x1="217.36" x2="217.36" y1="390.50" y2="391.90" stroke="#222" stroke-width="0.55"/>
<text class="tk" text-anchor="middle" x="217.36" y="397.60">65</text>
<line x1="230.14" x2="230.14" y1="390.50" y2="391.90" stroke="#222" stroke-width="0.55"/>
<text class="tk" text-anchor="middle" x="230.14" y="397.60">67</text>
<line x1="242.93" x2="242.93" y1="390.50" y2="391.90" stroke="#222" stroke-width="0.55"/>
<text class="tk" text-anchor="middle" x="242.93" y="397.60">69</text>
<line x1="255.71" x2="255.71" y1="390.50" y2="391.90" stroke="#222" stroke-width="0.55"/>
<text class="tk" text-anchor="middle" x="255.71" y="397.60">71</text>
<line x1="268.50" x2="268.50" y1="390.50" y2="391.90" stroke="#222" stroke-width="0.55"/>
<text class="tk" text-anchor="middle" x="268.50" y="397.60">73</text>
<line x1="281.29" x2="281.29" y1="390.50" y2="391.90" stroke="#222" stroke-width="0.55"/>
<text class="tk" text-anchor="middle" x="281.29" y="397.60">75</text>
<line x1="294.07" x2="294.07" y1="390.50" y2="391.90" stroke="#222" stroke-width="0.55"/>
<text class="tk" text-anchor="middle" x="294.07" y="397.60">77</text>
<line x1="306.86" x2="306.86" y1="390.50" y2="391.90" stroke="#222" stroke-width="0.55"/>
<text class="tk" text-anchor="middle" x="306.86" y="397.60">79</text>
<line x1="319.64" x2="319.64" y1="390.50" y2="391.90" stroke="#222" stroke-width="0.55"/>
<text class="tk" text-anchor="middle" x="319.64" y="397.60">81</text>
<line x1="332.43" x2="332.43" y1="390.50" y2="391.90" stroke="#222" stroke-width="0.55"/>
<text class="tk" text-anchor="middle" x="332.43" y="397.60">83</text>
<line x1="345.21" x2="345.21" y1="390.50" y2="391.90" stroke="#222" stroke-width="0.55"/>
<text class="tk" text-anchor="middle" x="345.21" y="397.60">85</text>
<line x1="358.00" x2="358.00" y1="390.50" y2="391.90" stroke="#222" stroke-width="0.55"/>
<text class="tk" text-anchor="middle" x="358.00" y="397.60">87</text>
<line x1="370.79" x2="370.79" y1="390.50" y2="391.90" stroke="#222" stroke-width="0.55"/>
<text class="tk" text-anchor="middle" x="370.79" y="397.60">89</text>
<line x1="383.57" x2="383.57" y1="390.50" y2="391.90" stroke="#222" stroke-width="0.55"/>
<text class="tk" text-anchor="middle" x="383.57" y="397.60">91</text>
<line x1="396.36" x2="396.36" y1="390.50" y2="391.90" stroke="#222" stroke-width="0.55"/>
<text class="tk" text-anchor="middle" x="396.36" y="397.60">93</text>
<line x1="409.14" x2="409.14" y1="390.50" y2="391.90" stroke="#222" stroke-width="0.55"/>
<text class="tk" text-anchor="middle" x="409.14" y="397.60">95</text>
<line x1="421.93" x2="421.93" y1="390.50" y2="391.90" stroke="#222" stroke-width="0.55"/>
<text class="tk" text-anchor="middle" x="421.93" y="397.60">97</text>
<line x1="434.71" x2="434.71" y1="390.50" y2="391.90" stroke="#222" stroke-width="0.55"/>
<text class="tk" text-anchor="middle" x="434.71" y="397.60">99</text>
<text class="ax" style="font-size:8.9px" x="255.60" y="408.90">t<tspan font-size="6.2px" letter-spacing="0.45" x="258.50" dy="1.1">eol</tspan></text>
<text class="ax" style="font-size:8.8px;font-style:normal" transform="translate(269.50 408.90) scale(0.8 1)">(%)</text>
<text class="ax" transform="translate(67.4 345.35) rotate(-90)" style="font-size:9px">E<tspan font-size="6.8px" x="5.7" dy="1.7">p</tspan><tspan x="9.4" dy="-1.7" font-size="10.5px" font-style="normal">(</tspan><tspan x="12.75">t</tspan><tspan x="15.2" font-size="10.5px" font-style="normal">)</tspan></text>
<text class="rl" x="3.6" y="336.75" textLength="33.8" lengthAdjust="spacingAndGlyphs">(c) MLP</text>
</g>
<g>
<clipPath id="c3"><rect x="89.50" y="417.40" width="358.00" height="109.10"/></clipPath>
<line x1="89.50" x2="447.50" y1="458.31" y2="458.31" stroke="#3d7fae" stroke-width="0.95" stroke-opacity="0.85" stroke-dasharray="2 1.2"/>
<line x1="89.50" x2="447.50" y1="471.95" y2="471.95" stroke="#3d7fae" stroke-width="0.95" stroke-opacity="0.85" stroke-dasharray="2 1.2"/>
<line x1="89.50" x2="447.50" y1="485.59" y2="485.59" stroke="#3d7fae" stroke-width="0.95" stroke-opacity="0.85" stroke-dasharray="2 1.2"/>
<g clip-path="url(#c3)">
<polyline fill="none" stroke="#1f77b4" stroke-width="0.75" stroke-linejoin="round" points="321.5,505.9 330.1,511.2 339.0,510.6"/>
<circle cx="321.5" cy="505.9" r="1.35" fill="#1f77b4"/>
<circle cx="330.1" cy="511.2" r="1.35" fill="#1f77b4"/>
<circle cx="339.0" cy="510.6" r="1.35" fill="#1f77b4"/>
<circle cx="364.0" cy="501.2" r="1.35" fill="#1f77b4"/>
<polyline fill="none" stroke="#1f77b4" stroke-width="0.75" stroke-linejoin="round" points="407.2,482.3 415.4,473.3 424.1,469.1"/>
<circle cx="407.2" cy="482.3" r="1.35" fill="#1f77b4"/>
<circle cx="415.4" cy="473.3" r="1.35" fill="#1f77b4"/>
<circle cx="424.1" cy="469.1" r="1.35" fill="#1f77b4"/>
<circle cx="390.3" cy="480.1" r="1.35" fill="#ff7f0e"/>
<polyline fill="none" stroke="#ff7f0e" stroke-width="0.75" stroke-linejoin="round" points="410.8,478.7 420.7,473.7 431.1,468.7"/>
<circle cx="410.8" cy="478.7" r="1.35" fill="#ff7f0e"/>
<circle cx="420.7" cy="473.7" r="1.35" fill="#ff7f0e"/>
<circle cx="431.1" cy="468.7" r="1.35" fill="#ff7f0e"/>
<polyline fill="none" stroke="#2ca02c" stroke-width="0.75" stroke-linejoin="round" points="295.5,525.2 305.5,521.4 315.5,519.6"/>
<circle cx="295.5" cy="525.2" r="1.35" fill="#2ca02c"/>
<circle cx="305.5" cy="521.4" r="1.35" fill="#2ca02c"/>
<circle cx="315.5" cy="519.6" r="1.35" fill="#2ca02c"/>
<polyline fill="none" stroke="#2ca02c" stroke-width="0.75" stroke-linejoin="round" points="383.1,474.7 392.7,460.6 402.4,464.8 412.0,463.4 421.5,464.4 431.5,457.4 441.5,449.8"/>
<circle cx="383.1" cy="474.7" r="1.35" fill="#2ca02c"/>
<circle cx="392.7" cy="460.6" r="1.35" fill="#2ca02c"/>
<circle cx="402.4" cy="464.8" r="1.35" fill="#2ca02c"/>
<circle cx="412.0" cy="463.4" r="1.35" fill="#2ca02c"/>
<circle cx="421.5" cy="464.4" r="1.35" fill="#2ca02c"/>
<circle cx="431.5" cy="457.4" r="1.35" fill="#2ca02c"/>
<circle cx="441.5" cy="449.8" r="1.35" fill="#2ca02c"/>
<polyline fill="none" stroke="#d62728" stroke-width="0.75" stroke-linejoin="round" points="332.8,513.7 343.9,506.3"/>
<circle cx="332.8" cy="513.7" r="1.35" fill="#d62728"/>
<circle cx="343.9" cy="506.3" r="1.35" fill="#d62728"/>
<polyline fill="none" stroke="#d62728" stroke-width="0.75" stroke-linejoin="round" points="376.3,484.0 387.1,476.7 398.0,473.3 408.8,467.2 419.7,468.7 430.5,467.2 441.5,460.8"/>
<circle cx="376.3" cy="484.0" r="1.35" fill="#d62728"/>
<circle cx="387.1" cy="476.7" r="1.35" fill="#d62728"/>
<circle cx="398.0" cy="473.3" r="1.35" fill="#d62728"/>
<circle cx="408.8" cy="467.2" r="1.35" fill="#d62728"/>
<circle cx="419.7" cy="468.7" r="1.35" fill="#d62728"/>
<circle cx="430.5" cy="467.2" r="1.35" fill="#d62728"/>
<circle cx="441.5" cy="460.8" r="1.35" fill="#d62728"/>
<polyline fill="none" stroke="#9467bd" stroke-width="0.75" stroke-linejoin="round" points="297.7,515.7 306.6,486.8"/>
<circle cx="297.7" cy="515.7" r="1.35" fill="#9467bd"/>
<circle cx="306.6" cy="486.8" r="1.35" fill="#9467bd"/>
<polyline fill="none" stroke="#9467bd" stroke-width="0.75" stroke-linejoin="round" points="348.3,504.1 356.7,499.2 365.4,481.2 373.8,470.3 382.3,465.2 390.5,454.2 399.0,447.8 407.6,432.9 416.2,428.3 424.3,423.9 433.1,423.5 441.5,429.3"/>
<circle cx="348.3" cy="504.1" r="1.35" fill="#9467bd"/>
<circle cx="356.7" cy="499.2" r="1.35" fill="#9467bd"/>
<circle cx="365.4" cy="481.2" r="1.35" fill="#9467bd"/>
<circle cx="373.8" cy="470.3" r="1.35" fill="#9467bd"/>
<circle cx="382.3" cy="465.2" r="1.35" fill="#9467bd"/>
<circle cx="390.5" cy="454.2" r="1.35" fill="#9467bd"/>
<circle cx="399.0" cy="447.8" r="1.35" fill="#9467bd"/>
<circle cx="407.6" cy="432.9" r="1.35" fill="#9467bd"/>
<circle cx="416.2" cy="428.3" r="1.35" fill="#9467bd"/>
<circle cx="424.3" cy="423.9" r="1.35" fill="#9467bd"/>
<circle cx="433.1" cy="423.5" r="1.35" fill="#9467bd"/>
<circle cx="441.5" cy="429.3" r="1.35" fill="#9467bd"/>
<circle cx="317.0" cy="477.5" r="1.35" fill="#8c564b"/>
<polyline fill="none" stroke="#8c564b" stroke-width="0.75" stroke-linejoin="round" points="355.4,477.5 364.5,429.1"/>
<circle cx="355.4" cy="477.5" r="1.35" fill="#8c564b"/>
<circle cx="364.5" cy="429.1" r="1.35" fill="#8c564b"/>
<polyline fill="none" stroke="#8c564b" stroke-width="0.75" stroke-linejoin="round" points="403.0,457.0 412.6,461.8 422.1,470.7 431.7,471.1 441.5,465.2"/>
<circle cx="403.0" cy="457.0" r="1.35" fill="#8c564b"/>
<circle cx="412.6" cy="461.8" r="1.35" fill="#8c564b"/>
<circle cx="422.1" cy="470.7" r="1.35" fill="#8c564b"/>
<circle cx="431.7" cy="471.1" r="1.35" fill="#8c564b"/>
<circle cx="441.5" cy="465.2" r="1.35" fill="#8c564b"/>
</g>
<rect x="93.0" y="421.00" width="47.6" height="62.0" rx="1.2" fill="#fff" fill-opacity="0.8" stroke="#d4d4d4" stroke-width="0.5"/>
<line x1="95.4" x2="110.6" y1="426.50" y2="426.50" stroke="#1f77b4" stroke-width="0.8" stroke-opacity="0.95"/>
<text class="lg" x="116.3" y="429.20">Unit 2</text>
<line x1="95.4" x2="110.6" y1="436.67" y2="436.67" stroke="#ff7f0e" stroke-width="0.8" stroke-opacity="0.95"/>
<text class="lg" x="116.3" y="439.37">Unit 16</text>
<line x1="95.4" x2="110.6" y1="446.84" y2="446.84" stroke="#2ca02c" stroke-width="0.8" stroke-opacity="0.95"/>
<text class="lg" x="116.3" y="449.54">Unit 20</text>
<line x1="95.4" x2="110.6" y1="457.01" y2="457.01" stroke="#d62728" stroke-width="0.8" stroke-opacity="0.95"/>
<text class="lg" x="116.3" y="459.71">Unit 11</text>
<line x1="95.4" x2="110.6" y1="467.18" y2="467.18" stroke="#9467bd" stroke-width="0.8" stroke-opacity="0.95"/>
<text class="lg" x="116.3" y="469.88">Unit 14</text>
<line x1="95.4" x2="110.6" y1="477.35" y2="477.35" stroke="#8c564b" stroke-width="0.8" stroke-opacity="0.95"/>
<text class="lg" x="116.3" y="480.05">Unit 15</text>
<rect x="89.50" y="417.40" width="358.00" height="109.10" fill="none" stroke="#383838" stroke-width="0.62"/>
<line x1="88.10" x2="89.50" y1="417.40" y2="417.40" stroke="#222" stroke-width="0.55"/>
<text class="tk" text-anchor="end" x="85.9" y="419.85">20</text>
<line x1="88.10" x2="89.50" y1="444.67" y2="444.67" stroke="#222" stroke-width="0.55"/>
<text class="tk" text-anchor="end" x="85.9" y="447.12">10</text>
<line x1="88.10" x2="89.50" y1="471.95" y2="471.95" stroke="#222" stroke-width="0.55"/>
<text class="tk" text-anchor="end" x="85.9" y="474.40">0</text>
<line x1="88.10" x2="89.50" y1="499.23" y2="499.23" stroke="#222" stroke-width="0.55"/>
<text class="tk" text-anchor="end" x="85.9" y="501.68"><tspan font-size="9.6px" font-weight="normal" stroke="none" dy="1.9">−</tspan><tspan dy="-1.9">10</tspan></text>
<line x1="88.10" x2="89.50" y1="526.50" y2="526.50" stroke="#222" stroke-width="0.55"/>
<text class="tk" text-anchor="end" x="85.9" y="528.95"><tspan font-size="9.6px" font-weight="normal" stroke="none" dy="1.9">−</tspan><tspan dy="-1.9">20</tspan></text>
<line x1="89.50" x2="89.50" y1="526.50" y2="527.90" stroke="#222" stroke-width="0.55"/>
<text class="tk" text-anchor="middle" x="89.50" y="533.60">45</text>
<line x1="102.29" x2="102.29" y1="526.50" y2="527.90" stroke="#222" stroke-width="0.55"/>
<text class="tk" text-anchor="middle" x="102.29" y="533.60">47</text>
<line x1="115.07" x2="115.07" y1="526.50" y2="527.90" stroke="#222" stroke-width="0.55"/>
<text class="tk" text-anchor="middle" x="115.07" y="533.60">49</text>
<line x1="127.86" x2="127.86" y1="526.50" y2="527.90" stroke="#222" stroke-width="0.55"/>
<text class="tk" text-anchor="middle" x="127.86" y="533.60">51</text>
<line x1="140.64" x2="140.64" y1="526.50" y2="527.90" stroke="#222" stroke-width="0.55"/>
<text class="tk" text-anchor="middle" x="140.64" y="533.60">53</text>
<line x1="153.43" x2="153.43" y1="526.50" y2="527.90" stroke="#222" stroke-width="0.55"/>
<text class="tk" text-anchor="middle" x="153.43" y="533.60">55</text>
<line x1="166.21" x2="166.21" y1="526.50" y2="527.90" stroke="#222" stroke-width="0.55"/>
<text class="tk" text-anchor="middle" x="166.21" y="533.60">57</text>
<line x1="179.00" x2="179.00" y1="526.50" y2="527.90" stroke="#222" stroke-width="0.55"/>
<text class="tk" text-anchor="middle" x="179.00" y="533.60">59</text>
<line x1="191.79" x2="191.79" y1="526.50" y2="527.90" stroke="#222" stroke-width="0.55"/>
<text class="tk" text-anchor="middle" x="191.79" y="533.60">61</text>
<line x1="204.57" x2="204.57" y1="526.50" y2="527.90" stroke="#222" stroke-width="0.55"/>
<text class="tk" text-anchor="middle" x="204.57" y="533.60">63</text>
<line x1="217.36" x2="217.36" y1="526.50" y2="527.90" stroke="#222" stroke-width="0.55"/>
<text class="tk" text-anchor="middle" x="217.36" y="533.60">65</text>
<line x1="230.14" x2="230.14" y1="526.50" y2="527.90" stroke="#222" stroke-width="0.55"/>
<text class="tk" text-anchor="middle" x="230.14" y="533.60">67</text>
<line x1="242.93" x2="242.93" y1="526.50" y2="527.90" stroke="#222" stroke-width="0.55"/>
<text class="tk" text-anchor="middle" x="242.93" y="533.60">69</text>
<line x1="255.71" x2="255.71" y1="526.50" y2="527.90" stroke="#222" stroke-width="0.55"/>
<text class="tk" text-anchor="middle" x="255.71" y="533.60">71</text>
<line x1="268.50" x2="268.50" y1="526.50" y2="527.90" stroke="#222" stroke-width="0.55"/>
<text class="tk" text-anchor="middle" x="268.50" y="533.60">73</text>
<line x1="281.29" x2="281.29" y1="526.50" y2="527.90" stroke="#222" stroke-width="0.55"/>
<text class="tk" text-anchor="middle" x="281.29" y="533.60">75</text>
<line x1="294.07" x2="294.07" y1="526.50" y2="527.90" stroke="#222" stroke-width="0.55"/>
<text class="tk" text-anchor="middle" x="294.07" y="533.60">77</text>
<line x1="306.86" x2="306.86" y1="526.50" y2="527.90" stroke="#222" stroke-width="0.55"/>
<text class="tk" text-anchor="middle" x="306.86" y="533.60">79</text>
<line x1="319.64" x2="319.64" y1="526.50" y2="527.90" stroke="#222" stroke-width="0.55"/>
<text class="tk" text-anchor="middle" x="319.64" y="533.60">81</text>
<line x1="332.43" x2="332.43" y1="526.50" y2="527.90" stroke="#222" stroke-width="0.55"/>
<text class="tk" text-anchor="middle" x="332.43" y="533.60">83</text>
<line x1="345.21" x2="345.21" y1="526.50" y2="527.90" stroke="#222" stroke-width="0.55"/>
<text class="tk" text-anchor="middle" x="345.21" y="533.60">85</text>
<line x1="358.00" x2="358.00" y1="526.50" y2="527.90" stroke="#222" stroke-width="0.55"/>
<text class="tk" text-anchor="middle" x="358.00" y="533.60">87</text>
<line x1="370.79" x2="370.79" y1="526.50" y2="527.90" stroke="#222" stroke-width="0.55"/>
<text class="tk" text-anchor="middle" x="370.79" y="533.60">89</text>
<line x1="383.57" x2="383.57" y1="526.50" y2="527.90" stroke="#222" stroke-width="0.55"/>
<text class="tk" text-anchor="middle" x="383.57" y="533.60">91</text>
<line x1="396.36" x2="396.36" y1="526.50" y2="527.90" stroke="#222" stroke-width="0.55"/>
<text class="tk" text-anchor="middle" x="396.36" y="533.60">93</text>
<line x1="409.14" x2="409.14" y1="526.50" y2="527.90" stroke="#222" stroke-width="0.55"/>
<text class="tk" text-anchor="middle" x="409.14" y="533.60">95</text>
<line x1="421.93" x2="421.93" y1="526.50" y2="527.90" stroke="#222" stroke-width="0.55"/>
<text class="tk" text-anchor="middle" x="421.93" y="533.60">97</text>
<line x1="434.71" x2="434.71" y1="526.50" y2="527.90" stroke="#222" stroke-width="0.55"/>
<text class="tk" text-anchor="middle" x="434.71" y="533.60">99</text>
<text class="ax" style="font-size:8.9px" x="255.60" y="544.90">t<tspan font-size="6.2px" letter-spacing="0.45" x="258.50" dy="1.1">eol</tspan></text>
<text class="ax" style="font-size:8.8px;font-style:normal" transform="translate(269.50 544.90) scale(0.8 1)">(%)</text>
<text class="ax" transform="translate(67.4 481.55) rotate(-90)" style="font-size:9px">E<tspan font-size="6.8px" x="5.7" dy="1.7">p</tspan><tspan x="9.4" dy="-1.7" font-size="10.5px" font-style="normal">(</tspan><tspan x="12.75">t</tspan><tspan x="15.2" font-size="10.5px" font-style="normal">)</tspan></text>
<text class="rl" x="3.6" y="474.85" textLength="48.6" lengthAdjust="spacingAndGlyphs">(d) Baseline</text>
</g>
</svg></body></html>
